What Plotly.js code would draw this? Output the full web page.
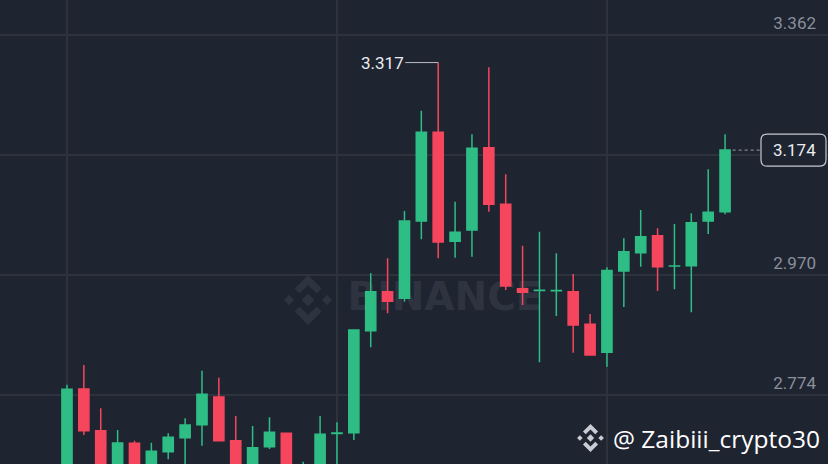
<!DOCTYPE html>
<html>
<head>
<meta charset="utf-8">
<script src="https://cdn.plot.ly/plotly-3.0.1.min.js"></script>
<style>
  html, body { margin: 0; padding: 0; background: #1f2431; }
  #chart { width: 828px; height: 464px; }
</style>
</head>
<body>
<div id="chart"></div>
<script>
// ---- Data ----
const openPrices  = [2.645, 2.7838, 2.7157, 2.655, 2.6951, 2.655, 2.6814, 2.7042, 2.7255, 2.7707,
                     2.6993, 2.655, 2.6895, 2.7114, 2.640, 2.655, 2.7110, 2.7124, 2.8790, 2.9427,
                     2.9319, 3.0582, 3.2031, 3.0250, 3.0435, 3.1779, 3.0855, 2.9476, 2.9448, 2.9442,
                     2.9427, 2.8895, 2.8437, 2.9765, 3.0064, 3.0342, 2.9845, 2.9852, 3.0582, 3.0734];
const highPrices  = [2.7908, 2.8230, 2.7523, 2.7168, 2.6993, 2.6961, 2.7114, 2.7359, 2.8137, 2.8022,
                     2.7397, 2.7233, 2.7376, 2.7119, 2.6650, 2.7397, 2.7294, 2.8802, 2.9728, 2.9973,
                     3.0745, 3.2384, 3.3170, 3.0897, 3.1998, 3.3093, 3.1345, 3.0179, 3.0407, 3.0054,
                     2.9716, 2.9063, 2.9826, 3.0299, 3.0762, 3.0463, 3.0533, 3.0708, 3.1427, 3.1998];
const lowPrices   = [2.635, 2.7086, 2.640, 2.650, 2.645, 2.650, 2.6690, 2.655, 2.6912, 2.6985,
                     2.645, 2.650, 2.6858, 2.645, 2.630, 2.645, 2.650, 2.7005, 2.8519, 2.9074,
                     2.9264, 3.0283, 2.9973, 2.9983, 2.9999, 3.0734, 2.9455, 2.9210, 2.8274, 2.9030,
                     2.8431, 2.8385, 2.8202, 2.9177, 2.9836, 2.9439, 2.9466, 2.9091, 3.0370, 3.0692];
const closePrices = [2.7833, 2.7157, 2.650, 2.6956, 2.650, 2.6820, 2.7049, 2.7250, 2.7751, 2.6993,
                     2.650, 2.6879, 2.7131, 2.650, 2.652, 2.7098, 2.7118, 2.8802, 2.9427, 2.9270,
                     3.0582, 3.2031, 3.0239, 3.0397, 3.1770, 3.0855, 2.9520, 2.9417, 2.9452, 2.9446,
                     2.8883, 2.8393, 2.9774, 3.0081, 3.0326, 2.9836, 2.9849, 3.0554, 3.0724, 3.1740];
const candleIndex = openPrices.map((_, i) => i);

// 3.166 sits under the last-price box in the reference, so its label is not drawn
const priceTickVals  = [2.774, 2.970, 3.166, 3.362];
const priceTickTexts = ["2.774", "2.970", "", "3.362"];
const timeGridVals   = [0, 16, 32];
const watermarkText  = "BINANCE";
const handleText     = "@ Zaibiii_crypto30";

// ---- Styling ----
const BG = '#1f2431';
const GRID = '#2d323d';
const UP = '#2ebd85';
const DOWN = '#f6465d';
const WM = '#2e3340';
const X_RANGE = [-3.97, 45.1];
const Y_RANGE = [2.66128, 3.4192];

const lastIdx = closePrices.length - 1;
const lastClose = closePrices[lastIdx];
let maxIdx = 0;
highPrices.forEach((h, i) => { if (h > highPrices[maxIdx]) maxIdx = i; });

// Binance logo built from small polygons (unit coordinates)
function logoPath(scale) {
  const poly = pts => 'M' + pts.map(p => (p[0] * scale).toFixed(2) + ',' + (p[1] * scale).toFixed(2)).join(' L') + ' Z';
  const diamond = (cx, cy, r) => poly([[cx, cy + r], [cx + r, cy], [cx, cy - r], [cx - r, cy]]);
  const chevron = s => poly([[0, 0.5 * s], [0.27, 0.23 * s], [0.17, 0.13 * s], [0, 0.30 * s], [-0.17, 0.13 * s], [-0.27, 0.23 * s]]);
  return [diamond(0, 0, 0.13), diamond(-0.38, 0, 0.1), diamond(0.38, 0, 0.1), chevron(1), chevron(-1)].join(' ');
}

// watermark placed as a fraction of the plot area, drawn on the base axes (behind the candles)
const wmFx = 0.5374, wmFy = 0.3534;
const watermark = {
  type: 'scatter', mode: 'text',
  x: [X_RANGE[0] + wmFx * (X_RANGE[1] - X_RANGE[0])],
  y: [Y_RANGE[0] + wmFy * (Y_RANGE[1] - Y_RANGE[0])],
  text: [watermarkText],
  textposition: 'middle center',
  textfont: { family: 'DejaVu Sans', size: 39, color: WM, weight: 'bold' },
  hoverinfo: 'skip', cliponaxis: false,
  xaxis: 'x', yaxis: 'y'
};

const candles = {
  type: 'candlestick',
  x: candleIndex,
  open: openPrices, high: highPrices, low: lowPrices, close: closePrices,
  increasing: { line: { color: UP, width: 1.5 }, fillcolor: UP },
  decreasing: { line: { color: DOWN, width: 1.5 }, fillcolor: DOWN },
  whiskerwidth: 0,
  hoverinfo: 'skip',
  xaxis: 'x2', yaxis: 'y2'
};

const layout = {
  width: 828, height: 464,
  margin: { l: 0, r: 0, t: 0, b: 0 },
  paper_bgcolor: BG, plot_bgcolor: BG,
  showlegend: false,
  boxgap: 0.14,
  xaxis: {
    range: X_RANGE,
    tickvals: timeGridVals,
    showticklabels: false,
    showgrid: true, gridcolor: GRID, gridwidth: 1.5,
    zeroline: false, showline: false, ticks: '',
    rangeslider: { visible: false },
    fixedrange: true
  },
  yaxis: {
    range: Y_RANGE,
    side: 'right',
    tickvals: priceTickVals,
    ticktext: priceTickTexts,
    ticklabelposition: 'inside top',
    ticklabelstandoff: 9,
    tickfont: { family: 'Roboto, sans-serif', size: 17, color: '#8a909b' },
    showgrid: true, gridcolor: GRID, gridwidth: 1.5,
    zeroline: false, showline: false, ticks: '',
    fixedrange: true
  },
  xaxis2: {
    overlaying: 'x', range: X_RANGE, visible: false, showgrid: false, zeroline: false,
    rangeslider: { visible: false }, fixedrange: true
  },
  yaxis2: {
    overlaying: 'y', range: Y_RANGE, visible: false, showgrid: false, zeroline: false,
    fixedrange: true
  },
  shapes: [
    // watermark logo
    { type: 'path', xref: 'paper', yref: 'paper', xsizemode: 'pixel', ysizemode: 'pixel',
      xanchor: 0.372, yanchor: 0.3534, path: logoPath(50),
      fillcolor: WM, line: { width: 0 }, layer: 'below' },
    // last price dashed guide
    { type: 'line', xref: 'x', yref: 'y', x0: lastIdx + 0.45, x1: X_RANGE[1], y0: lastClose, y1: lastClose,
      line: { color: '#9aa0aa', width: 1, dash: 'dot' }, layer: 'above' },
    // last price rounded box
    { type: 'path', xref: 'paper', yref: 'y', xsizemode: 'pixel', ysizemode: 'pixel',
      xanchor: 1, yanchor: lastClose,
      path: 'M -61,-16 L -8,-16 Q -2,-16 -2,-10 L -2,10 Q -2,16 -8,16 L -61,16 Q -67,16 -67,10 L -67,-10 Q -67,-16 -61,-16 Z',
      fillcolor: BG, line: { color: '#c3c7ce', width: 1.2 }, layer: 'above' },
    // bottom-right small logo
    { type: 'path', xref: 'paper', yref: 'paper', xsizemode: 'pixel', ysizemode: 'pixel',
      xanchor: 590.5 / 828, yanchor: 1 - 438 / 464, path: logoPath(28),
      fillcolor: '#c9ccd2', line: { width: 0 }, layer: 'above' }
  ],
  annotations: [
    { text: highPrices[maxIdx].toFixed(3), x: maxIdx, y: highPrices[maxIdx], xref: 'x', yref: 'y',
      showarrow: true, arrowhead: 0, arrowwidth: 1, arrowcolor: '#b9bec6', ax: -56, ay: 0,
      font: { family: 'Roboto, sans-serif', size: 17, color: '#eaecef' } },
    { text: lastClose.toFixed(3), xref: 'paper', yref: 'y', x: 794.5 / 828, y: lastClose,
      xanchor: 'center', yanchor: 'middle', showarrow: false,
      font: { family: 'Roboto, sans-serif', size: 17, color: '#eaecef' } },
    { text: handleText, xref: 'paper', yref: 'paper', x: 611 / 828, y: 1 - 438 / 464,
      xanchor: 'left', yanchor: 'middle', showarrow: false,
      font: { family: 'Open Sans, Noto Sans, sans-serif', size: 24.5, color: '#ffffff' } }
  ]
};

Plotly.newPlot('chart', [watermark, candles], layout, { staticPlot: true, displayModeBar: false });
</script>
</body>
</html>
